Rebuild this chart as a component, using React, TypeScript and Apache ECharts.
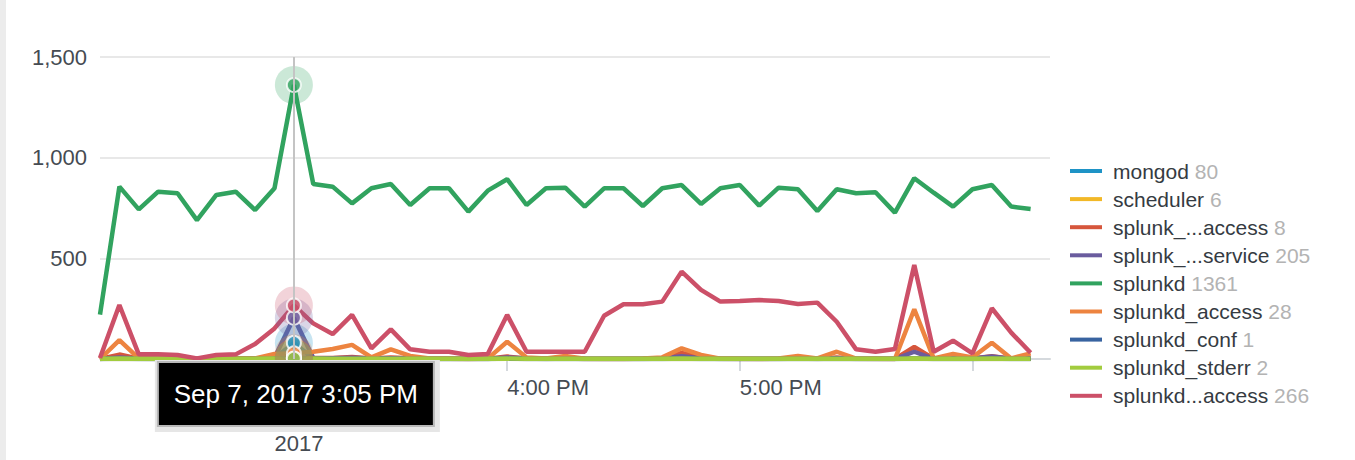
import { useEffect, useRef } from 'react';
import * as echarts from 'echarts';

const FONT = '"Liberation Sans", Arial, Helvetica, sans-serif';

// 5-minute buckets, Sep 7 2017 (the last bucket is empty padding on the right)
const categories = [
  '2:15 PM', '2:20 PM', '2:25 PM', '2:30 PM', '2:35 PM', '2:40 PM', '2:45 PM', '2:50 PM', '2:55 PM',
  '3:00 PM', '3:05 PM', '3:10 PM', '3:15 PM', '3:20 PM', '3:25 PM', '3:30 PM', '3:35 PM', '3:40 PM',
  '3:45 PM', '3:50 PM', '3:55 PM', '4:00 PM', '4:05 PM', '4:10 PM', '4:15 PM', '4:20 PM', '4:25 PM',
  '4:30 PM', '4:35 PM', '4:40 PM', '4:45 PM', '4:50 PM', '4:55 PM', '5:00 PM', '5:05 PM', '5:10 PM',
  '5:15 PM', '5:20 PM', '5:25 PM', '5:30 PM', '5:35 PM', '5:40 PM', '5:45 PM', '5:50 PM', '5:55 PM',
  '6:00 PM', '6:05 PM', '6:10 PM', '6:15 PM', '6:20 PM'
];

const seriesNames = [
  'mongod', 'scheduler', 'splunk_...access', 'splunk_...service', 'splunkd',
  'splunkd_access', 'splunkd_conf', 'splunkd_stderr', 'splunkd...access'
];
const seriesColors = [
  '#1e93c6', '#f2b827', '#d6563c', '#6a5c9e', '#31a35f',
  '#ed8440', '#3863a0', '#a2cc3e', '#cc5068'
];

const mongod = [0, 3, 0, 0, 0, 0, 0, 0, 1, 4, 80, 3, 1, 0, 0, 0, 0, 0, 0, 0, 0, 2, 0, 0, 0, 0, 0, 0, 0, 0, 2, 0, 0, 0, 0, 0, 0, 0, 0, 0, 0, 0, 4, 0, 0, 0, 2, 0, 0];
const scheduler = [0, 1, 0, 0, 0, 0, 0, 0, 0, 1, 6, 1, 0, 0, 0, 0, 0, 0, 0, 0, 0, 1, 0, 0, 0, 0, 0, 0, 0, 0, 1, 0, 0, 0, 0, 0, 0, 0, 0, 0, 0, 0, 2, 0, 0, 0, 1, 0, 0];
const splunkWebAccess = [0, 22, 2, 1, 0, 0, 1, 2, 2, 4, 8, 6, 5, 10, 3, 8, 4, 1, 1, 0, 1, 12, 3, 1, 4, 0, 0, 0, 1, 4, 30, 10, 1, 0, 0, 1, 6, 1, 8, 1, 0, 0, 60, 2, 8, 3, 14, 1, 6];
const splunkWebService = [0, 8, 1, 0, 0, 0, 0, 1, 2, 6, 205, 5, 4, 6, 2, 4, 1, 0, 0, 0, 0, 8, 2, 0, 2, 0, 0, 0, 0, 2, 14, 4, 0, 0, 0, 0, 3, 0, 4, 0, 0, 0, 36, 1, 4, 2, 12, 1, 3];
const splunkd = [220, 856, 743, 831, 823, 690, 815, 831, 740, 848, 1361, 869, 856, 773, 848, 869, 765, 848, 848, 732, 836, 893, 765, 848, 851, 757, 848, 848, 760, 848, 864, 770, 848, 864, 762, 851, 843, 735, 843, 823, 828, 727, 898, 826, 757, 843, 864, 757, 745];
const splunkdAccess = [0, 94, 3, 2, 0, 0, 1, 2, 3, 25, 28, 36, 50, 70, 8, 48, 15, 2, 1, 0, 2, 86, 8, 2, 15, 1, 0, 0, 2, 8, 53, 20, 2, 1, 0, 2, 15, 3, 36, 2, 1, 0, 247, 3, 25, 8, 81, 3, 28];
const splunkdConf = [0, 0, 0, 0, 0, 0, 0, 0, 0, 0, 1, 0, 0, 0, 0, 0, 0, 0, 0, 0, 0, 1, 0, 0, 0, 0, 0, 0, 0, 0, 0, 0, 0, 0, 0, 0, 0, 0, 0, 0, 0, 0, 1, 0, 0, 0, 0, 0, 0];
const splunkdStderr = [1, 2, 1, 1, 1, 1, 1, 1, 1, 2, 2, 2, 1, 1, 1, 1, 1, 1, 1, 1, 1, 2, 1, 1, 1, 1, 1, 1, 1, 1, 2, 1, 1, 1, 1, 1, 1, 1, 1, 1, 1, 1, 2, 1, 1, 1, 2, 1, 1];
const splunkdUiAccess = [5, 268, 23, 23, 20, 3, 20, 23, 75, 152, 266, 177, 124, 219, 53, 147, 48, 36, 36, 20, 25, 219, 36, 36, 36, 36, 215, 272, 272, 285, 434, 343, 285, 288, 293, 288, 273, 280, 185, 48, 36, 50, 467, 36, 91, 28, 252, 131, 31];

const seriesValues = [
  mongod, scheduler, splunkWebAccess, splunkWebService, splunkd,
  splunkdAccess, splunkdConf, splunkdStderr, splunkdUiAccess
];

const yMax = 1500;
const yInterval = 500;

// hourly ticks; the 6:00 PM one has no label
const hourTicks = ['3:00 PM', '4:00 PM', '5:00 PM', '6:00 PM'];
const labelledTicks = ['3:00 PM', '4:00 PM', '5:00 PM'];
const tickDateLines: Record<string, string> = { '3:00 PM': 'Thu Sep 7\n2017' };

// hovered bucket shown in the tooltip and legend values
const hoverIndex = 10;
const hoverDate = 'Sep 7, 2017';

export default function App() {
  const containerRef = useRef<HTMLDivElement>(null);

  useEffect(() => {
    if (!containerRef.current) return;
    const chart = echarts.init(containerRef.current, undefined, { renderer: 'svg' });

    const lineSeries = seriesNames.map((name, i) => ({
      name,
      type: 'line' as const,
      data: seriesValues[i],
      showSymbol: false,
      symbol: 'none',
      silent: true,
      color: seriesColors[i],
      lineStyle: { width: 4.5, color: seriesColors[i] },
      emphasis: { disabled: true },
      z: 2
    }));

    const hoverPoints = seriesValues.map((vals, i) => ({
      value: [hoverIndex, vals[hoverIndex]],
      itemStyle: { color: seriesColors[i] }
    }));

    const option: echarts.EChartsOption = {
      animation: false,
      textStyle: { fontFamily: FONT },
      grid: { left: 100, right: 305, top: 57, bottom: 101, containLabel: false },
      legend: {
        data: seriesNames,
        orient: 'vertical',
        left: 1065,
        top: 154,
        icon: 'rect',
        itemWidth: 32,
        itemHeight: 4,
        itemGap: 4.1,
        selectedMode: false,
        formatter: (name: string) => {
          const idx = seriesNames.indexOf(name);
          return `{n|${name}} {v|${seriesValues[idx][hoverIndex]}}`;
        },
        textStyle: {
          fontSize: 21,
          fontFamily: FONT,
          lineHeight: 24,
          rich: {
            n: { fontSize: 21, fontFamily: FONT, color: '#353b42', lineHeight: 24, padding: [0, 0, 0, 6] },
            v: { fontSize: 21, fontFamily: FONT, color: '#b3b3b3', lineHeight: 24 }
          }
        }
      },
      xAxis: {
        type: 'category',
        data: categories,
        boundaryGap: false,
        axisLine: { lineStyle: { color: '#d5d9dd', width: 2 } },
        axisTick: {
          show: true,
          length: 12,
          interval: (_i: number, v: string) => hourTicks.includes(v),
          lineStyle: { color: '#d5d9dd', width: 2 }
        },
        axisLabel: {
          interval: (_i: number, v: string) => labelledTicks.includes(v),
          align: 'left',
          margin: 14,
          fontSize: 22,
          lineHeight: 28,
          color: '#454b52',
          fontFamily: FONT,
          formatter: (v: string) => (tickDateLines[v] ? `${v}\n${tickDateLines[v]}` : v)
        },
        splitLine: { show: false }
      },
      yAxis: {
        type: 'value',
        min: 0,
        max: yMax,
        interval: yInterval,
        axisLine: { show: false },
        axisTick: { show: false },
        splitLine: { lineStyle: { color: '#e8e8e8', width: 2 } },
        axisLabel: {
          showMinLabel: false,
          margin: 13,
          fontSize: 22,
          color: '#454b52',
          fontFamily: FONT,
          formatter: (v: number) => v.toLocaleString('en-US')
        }
      },
      series: [
        ...lineSeries,
        {
          type: 'scatter',
          name: 'halo',
          silent: true,
          symbolSize: 38,
          itemStyle: { opacity: 0.25 },
          data: hoverPoints,
          z: 3,
          markLine: {
            silent: true,
            symbol: 'none',
            label: { show: false },
            lineStyle: { color: '#c4c4c4', width: 2, type: 'solid' },
            data: [{ xAxis: hoverIndex }]
          }
        },
        {
          type: 'scatter',
          name: 'dot',
          silent: true,
          symbolSize: 14,
          itemStyle: { borderColor: '#ffffff', borderWidth: 2 },
          data: hoverPoints,
          z: 4
        }
      ]
    };

    chart.setOption(option);

    const [cx, cy] = chart.convertToPixel({ gridIndex: 0 }, [hoverIndex, 0]) as number[];
    chart.setOption({
      graphic: [
        {
          type: 'rect',
          z: 100,
          shape: { x: cx - 139, y: cy + 1, width: 285, height: 72 },
          style: { fill: '#e6e6e6' }
        },
        {
          type: 'rect',
          z: 101,
          shape: { x: cx - 136, y: cy + 3, width: 276, height: 64 },
          style: { fill: '#000000', stroke: '#b8b8b8', lineWidth: 2 }
        },
        {
          type: 'text',
          z: 102,
          x: cx + 2,
          y: cy + 35,
          style: {
            text: `${hoverDate} ${categories[hoverIndex]}`,
            fill: '#ffffff',
            font: `26px ${FONT}`,
            textAlign: 'center',
            textVerticalAlign: 'middle'
          }
        }
      ]
    });

    return () => {
      chart.dispose();
    };
  }, []);

  return (
    <div style={{ position: 'fixed', left: 0, top: 0, width: 1355, height: 460, background: '#ffffff' }}>
      <div ref={containerRef} style={{ position: 'absolute', left: 0, top: 0, width: 1355, height: 460 }} />
      <div style={{ position: 'absolute', left: 0, top: 0, width: 6, height: 460, background: '#ececec' }} />
    </div>
  );
}
